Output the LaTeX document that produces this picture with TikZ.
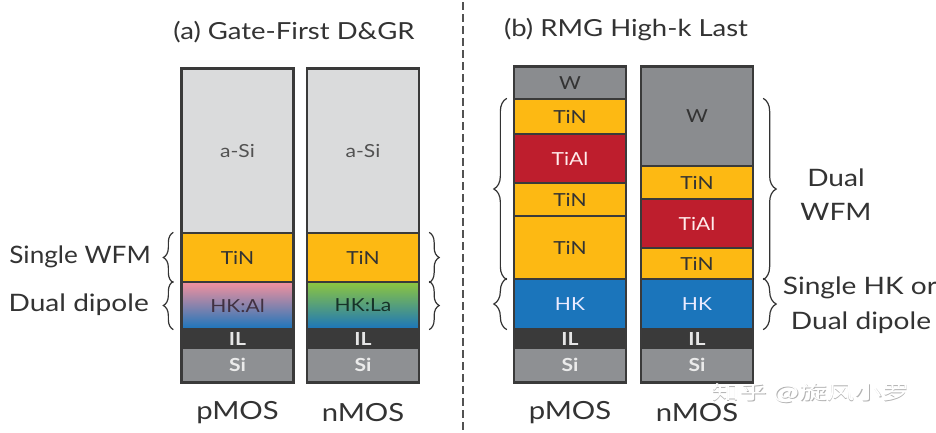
\documentclass[tikz,border=0pt]{standalone}
\usepackage{graphicx}
\usepackage{fontspec}
\setmainfont{Lato}
\newfontfamily\cjk{Noto Sans CJK SC}
\usetikzlibrary{decorations.pathreplacing}
\newcommand{\hs}[1]{\scalebox{1.17}[1]{#1}}
\newcommand{\hsw}[1]{\scalebox{1.45}[1]{#1}}
\definecolor{asi}{HTML}{DADBDC}
\definecolor{edge}{HTML}{3A3A3A}
\definecolor{tin}{HTML}{FDB913}
\definecolor{tial}{HTML}{BE1E2D}
\definecolor{wcol}{HTML}{8A8C8F}
\definecolor{hk}{HTML}{1B75BB}
\definecolor{ilcol}{HTML}{3A3A3A}
\definecolor{sicol}{HTML}{8E9093}
\definecolor{pinkc}{HTML}{F4919E}
\definecolor{purpc}{HTML}{B98DBB}
\definecolor{greenc}{HTML}{8DC63F}
\definecolor{tealc}{HTML}{4DAA8A}
\definecolor{labc}{HTML}{333333}
\tikzset{
  layer/.style={rectangle, draw=edge, line width=1.3pt, inner sep=0pt,
    minimum width=111pt, font=\fontsize{18}{20}\selectfont},
  col/.style={draw=edge, line width=1.8pt},
  lab/.style={font=\fontsize{24}{28}\selectfont, text=labc, inner sep=0pt},
  ttl/.style={font=\fontsize{23.5}{28}\selectfont, text=labc, inner sep=0pt},
  mos/.style={font=\fontsize{25}{28}\selectfont, text=labc, inner sep=0pt},
  brc/.style={draw=labc, line width=1.2pt, decorate,
    decoration={brace, amplitude=#1}},
  brc/.default=10pt
}
\begin{document}
\begin{tikzpicture}[x=1pt,y=-1pt]
\useasboundingbox (0,0) rectangle (936,432);
\fill[white] (0,0) rectangle (936,432);

% ---------- (a) Gate-First ----------
\node[ttl] (ta) at (294,32) {\hs{(a) Gate-First D\&GR}};

% pMOS
\node[layer, fill=asi, minimum height=164pt, text=labc!85] (pasi) at (237.5,151) {\hs{a-Si}};
\node[layer, fill=tin, minimum height=49pt, text=labc] (ptin) at (237.5,257.5) {\hs{TiN}};
\node[layer, top color=pinkc, middle color=purpc, bottom color=hk, minimum height=47pt, text=black!65!purpc] (phk) at (237.5,305.5) {\hs{HK:Al}};
\node[layer, fill=ilcol, minimum height=19pt, text=white!90!black] (pil) at (237.5,338.5) {\hs{\textbf{IL}}};
\node[layer, fill=sicol, minimum height=34pt, text=white!92!black] (psi) at (237.5,365) {\hs{\textbf{Si}}};
\draw[col] (pasi.north west) rectangle (psi.south east);

% nMOS
\node[layer, fill=asi, minimum height=164pt, text=labc!85] (nasi) at (363,151) {\hs{a-Si}};
\node[layer, fill=tin, minimum height=49pt, text=labc] (ntin) at (363,257.5) {\hs{TiN}};
\node[layer, top color=greenc, middle color=tealc, bottom color=hk, minimum height=47pt, text=black!70!tealc] (nhk) at (363,305.5) {\hs{HK:La}};
\node[layer, fill=ilcol, minimum height=19pt, text=white!90!black] (nil) at (363,338.5) {\hs{\textbf{IL}}};
\node[layer, fill=sicol, minimum height=34pt, text=white!92!black] (nsi) at (363,365) {\hs{\textbf{Si}}};
\draw[col] (nasi.north west) rectangle (nsi.south east);

% braces
\draw[brc=10pt] ([xshift=-8pt]ptin.south west) -- ([xshift=-8pt]ptin.north west);
\draw[brc=10pt] ([xshift=-8pt]phk.south west) -- ([xshift=-8pt]phk.north west);
\draw[brc=10pt] ([xshift=10pt]ntin.north east) -- ([xshift=10pt]ntin.south east);
\draw[brc=10pt] ([xshift=10pt]nhk.north east) -- ([xshift=10pt]nhk.south east);

\node[lab, anchor=east] (swfm) at (151,257) {\scalebox{1.09}[1]{Single WFM}};
\node[lab, anchor=east] (ddip) at (149,305) {\hs{Dual dipole}};

\node[mos] (pa) at (237.5,413) {\hs{pMOS}};
\node[mos] (na) at (363,413) {\hs{nMOS}};

% divider
\draw[labc!85, line width=2pt, dash pattern=on 8pt off 4pt] (463,2) -- (463,432);

% ---------- (b) RMG High-k Last ----------
\node[ttl] (tb) at (626,30) {\hs{(b) RMG High-k Last}};

% pMOS
\node[layer, fill=wcol, minimum height=32pt, text=labc] (pw) at (570,83) {\hs{W}};
\node[layer, fill=tin, minimum height=35pt, text=labc] (pt1) at (570,116.5) {\hs{TiN}};
\node[layer, fill=tial, minimum height=49pt, text=white!92!red] (pta) at (570,158.5) {\hs{TiAl}};
\node[layer, fill=tin, minimum height=33pt, text=labc] (pt2) at (570,199.5) {\hs{TiN}};
\node[layer, fill=tin, minimum height=63pt, text=labc] (pt3) at (570,247.5) {\hs{TiN}};
\node[layer, fill=hk, minimum height=50pt, text=white!92!blue] (phkb) at (570,304) {\hs{HK}};
\node[layer, fill=ilcol, minimum height=19pt, text=white!90!black] (pilb) at (570,338.5) {\hs{\textbf{IL}}};
\node[layer, fill=sicol, minimum height=34pt, text=white!92!black] (psib) at (570,365) {\hs{\textbf{Si}}};
\draw[col] (pw.north west) rectangle (psib.south east);

% nMOS
\node[layer, fill=wcol, minimum height=99pt, text=labc] (nw) at (697,116.5) {\hs{W}};
\node[layer, fill=tin, minimum height=33pt, text=labc] (nt1) at (697,182.5) {\hs{TiN}};
\node[layer, fill=tial, minimum height=49pt, text=white!92!red] (nta) at (697,223.5) {\hs{TiAl}};
\node[layer, fill=tin, minimum height=31pt, text=labc] (nt2) at (697,263.5) {\hs{TiN}};
\node[layer, fill=hk, minimum height=50pt, text=white!92!blue] (nhkb) at (697,304) {\hs{HK}};
\node[layer, fill=ilcol, minimum height=19pt, text=white!90!black] (nilb) at (697,338.5) {\hs{\textbf{IL}}};
\node[layer, fill=sicol, minimum height=34pt, text=white!92!black] (nsib) at (697,365) {\hs{\textbf{Si}}};
\draw[col] (nw.north west) rectangle (nsib.south east);

% braces
\draw[brc=13pt] ([xshift=-7pt]pt3.south west) -- ([xshift=-7pt]pt1.north west);
\draw[brc=13pt] ([xshift=-7pt]phkb.south west) -- ([xshift=-7pt]phkb.north west);
\draw[brc=13pt] ([xshift=10pt]nw.east |- pt1.north) -- ([xshift=10pt]nt2.south east);
\draw[brc=13pt] ([xshift=10pt]nhkb.north east) -- ([xshift=10pt]nhkb.south east);

\node[lab] (dual) at (836,178) {\hs{Dual}};
\node[lab] (wfm) at (836,212) {\hs{WFM}};
\node[lab] (shk) at (860,288) {\hs{Single HK or}};
\node[lab] (ddb) at (861,323) {\hs{Dual dipole}};

\node[mos] (pb) at (570,413) {\hs{pMOS}};
\node[mos] (nb) at (697,413) {\hs{nMOS}};

% watermark
\node[font=\cjk\fontsize{19}{22}\selectfont, text=black!30, inner sep=0pt] (wm0) at (811.7,393.7) {\hsw{知乎 @旋风小罗}};
\node[font=\cjk\fontsize{19}{22}\selectfont, text=white, inner sep=0pt] (wm) at (811,393) {\hsw{知乎 @旋风小罗}};
\end{tikzpicture}
\end{document}
